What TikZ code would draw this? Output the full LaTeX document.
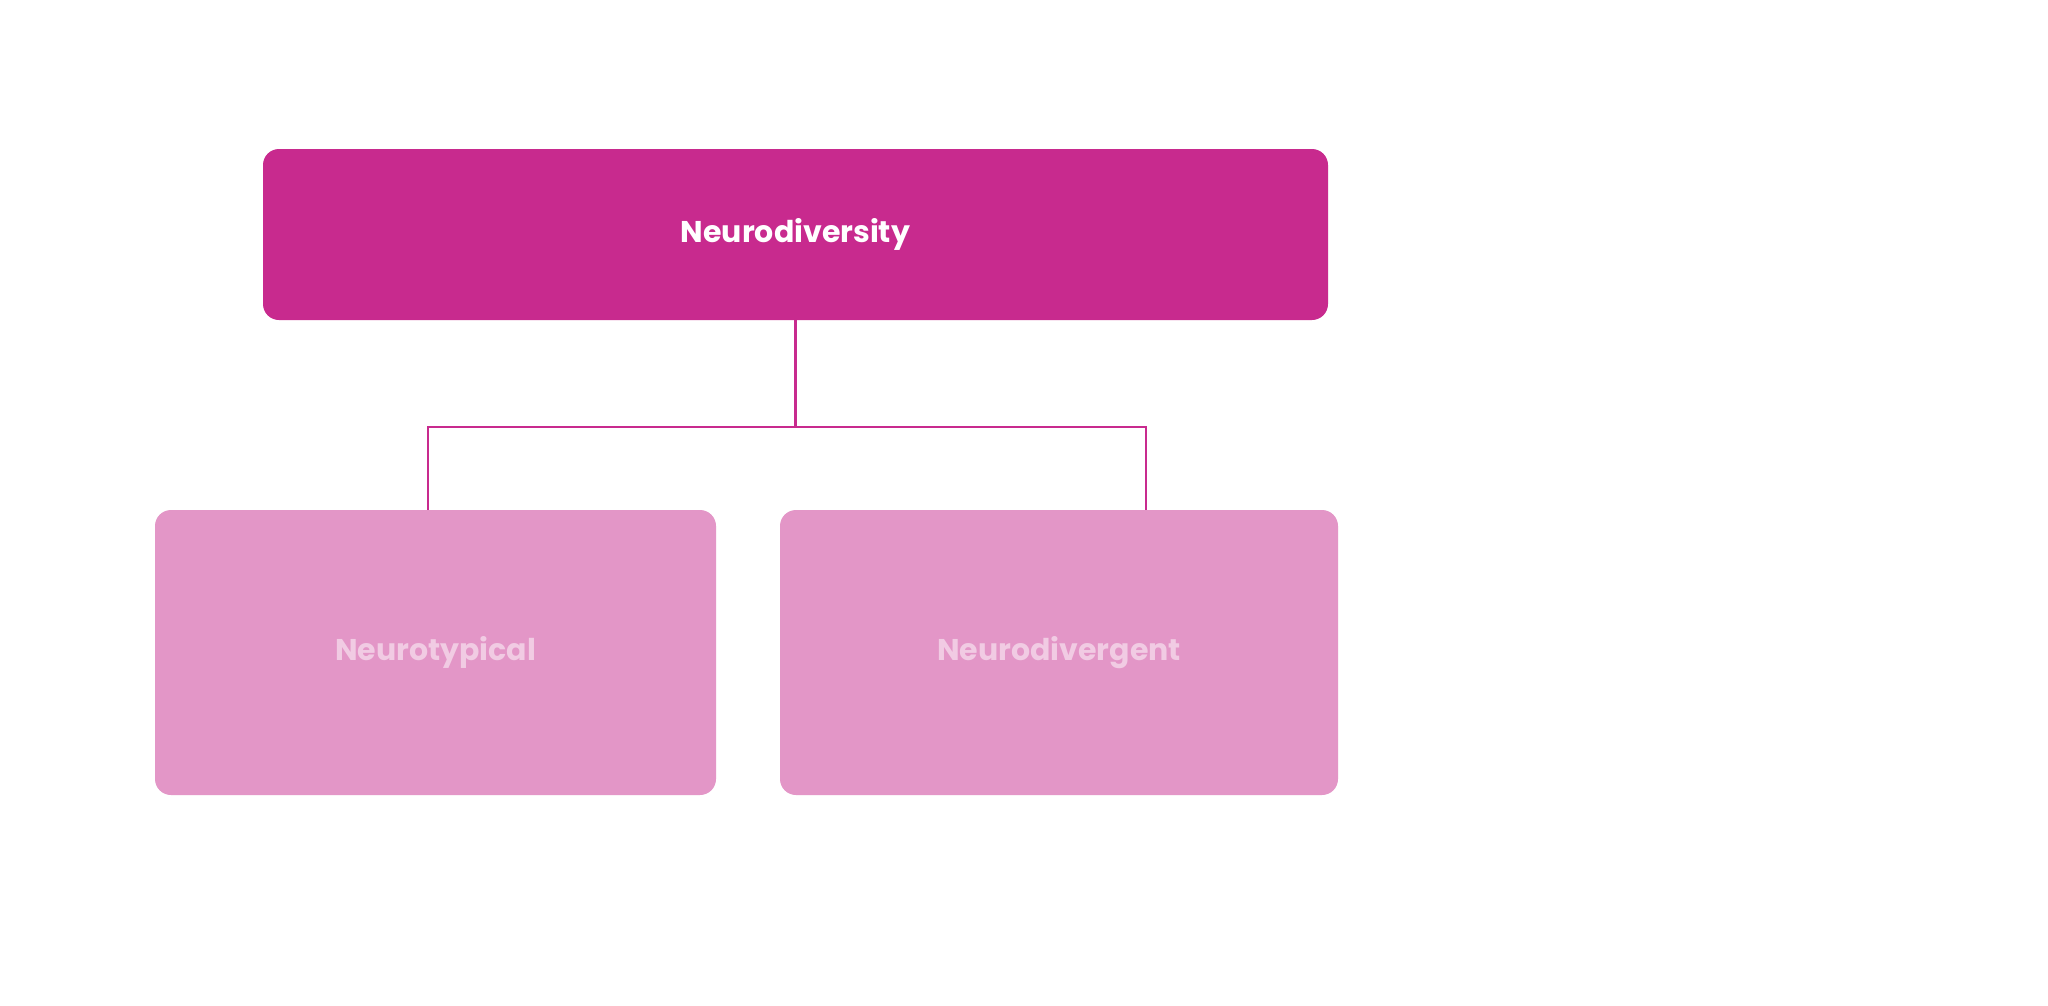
\documentclass[tikz,border=0pt]{standalone}
\usepackage{fontspec}
\setmainfont{Poppins}
\definecolor{top}{HTML}{C82A8E}
\definecolor{bot}{HTML}{E396C7}
\definecolor{bott}{HTML}{F1CBE3}
\begin{document}
\begin{tikzpicture}[x=1pt,y=-1pt,
 box/.style={rounded corners=16pt,inner sep=0pt,font=\fontsize{30}{36}\selectfont\bfseries},
 ln/.style={draw=top,line width=2.5pt}]
\useasboundingbox[fill=white] (0,0) rectangle (2048,1005);
\node[box,fill=top,text=white,minimum width=1065pt,minimum height=171pt] (n) at (795.5,234.5) {Neurodiversity};
\node[box,fill=bot,text=bott,minimum width=561pt,minimum height=285pt] (a) at (435.5,652.5) {Neurotypical};
\node[box,fill=bot,text=bott,minimum width=558pt,minimum height=285pt] (b) at (1059,652.5) {Neurodivergent};
\coordinate (m) at (795.5,427);
\draw[ln] (n.south) -- (m);
\draw[ln] (m) -| ([xshift=-7.5pt]a.north);
\draw[ln] (m) -| ([xshift=87pt]b.north);
\end{tikzpicture}
\end{document}
